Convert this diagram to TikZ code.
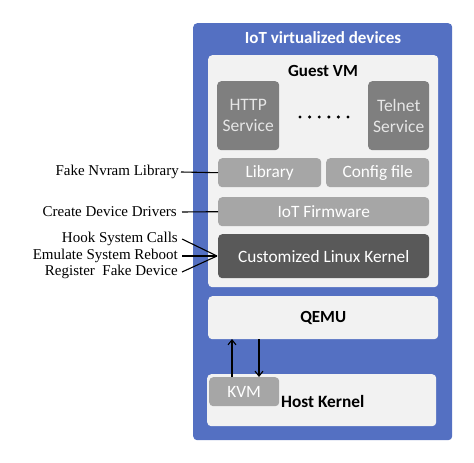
\documentclass[tikz,border=0pt]{standalone}
\usepackage{fontspec}
\setmainfont{Liberation Serif}
\newfontfamily\calfont{Carlito}
\usetikzlibrary{arrows.meta}
\definecolor{bluebg}{HTML}{5470C2}
\definecolor{lightbox}{HTML}{F2F2F2}
\definecolor{svcgray}{HTML}{7F7F7F}
\definecolor{midgray}{HTML}{A6A6A6}
\definecolor{darkgray}{HTML}{595959}
\definecolor{svctext}{HTML}{E6E6E6}
\begin{document}
\begin{tikzpicture}[x=1bp,y=-1bp,
  box/.style={rounded corners=4bp, inner sep=0pt},
  btxt/.style={font=\calfont\fontsize{17.3bp}{20bp}\selectfont},
  lbl/.style={anchor=east, font=\fontsize{15bp}{16bp}\selectfont, inner sep=0pt},
  con/.style={line width=1.1bp, black},
  arr/.style={line width=1.1bp, black, -{Straight Barb[length=5bp,width=8bp]}}]
\useasboundingbox (0,0) rectangle (474,463);
% outer
\node[box, fill=bluebg, minimum width=259bp, minimum height=417bp, anchor=north west] (outer) at (193,23) {};
\node[font=\calfont\bfseries\fontsize{17bp}{18bp}\selectfont, text=white] (title) at (323,38) {IoT virtualized devices};
% guest vm
\node[box, fill=lightbox, minimum width=230bp, minimum height=232bp, anchor=north west] (guest) at (208,55) {};
\node[font=\calfont\bfseries\fontsize{17bp}{18bp}\selectfont] (gtitle) at (323,71) {Guest VM};
\node[box, fill=svcgray, minimum width=62bp, minimum height=69bp, anchor=north west, text=svctext,
  font=\calfont\fontsize{17.5bp}{21bp}\selectfont, align=center] (http) at (217,81) {HTTP\\Service};
\node[box, fill=svcgray, minimum width=61bp, minimum height=69bp, anchor=north west, text=svctext,
  font=\calfont\fontsize{17.5bp}{21bp}\selectfont, align=center] (telnet) at (368,81) {Telnet\\Service};
\coordinate (dots) at (300,117);
\foreach \i in {0,...,5} { \fill (300+\i*9.6,117) circle (1.7bp); }
\node[box, fill=midgray, minimum width=103bp, minimum height=29bp, anchor=north west, text=white,
  btxt] (lib) at (218,158) {Library};
\node[box, fill=midgray, minimum width=103bp, minimum height=29bp, anchor=north west, text=white,
  btxt] (cfg) at (326,158) {Config file};
\node[box, fill=midgray, minimum width=211bp, minimum height=29bp, anchor=north west, text=white,
  btxt] (fw) at (218,197) {IoT Firmware};
\node[box, fill=darkgray, minimum width=211bp, minimum height=44bp, anchor=north west, text=white,
  btxt] (kern) at (218,234) {Customized Linux Kernel};
% qemu
\node[box, fill=lightbox, minimum width=230bp, minimum height=43bp, anchor=north west,
  font=\calfont\bfseries\fontsize{17bp}{18bp}\selectfont] (qemu) at (208,296) {QEMU};
% host kernel
\node[box, fill=lightbox, minimum width=229bp, minimum height=52bp, anchor=north west] (host) at (207,374) {};
\node[box, fill=midgray, minimum width=70bp, minimum height=29bp, anchor=north west, text=white,
  btxt] (kvm) at (209,377) {KVM};
\node[anchor=west, inner sep=0pt, font=\calfont\bfseries\fontsize{17.3bp}{18bp}\selectfont] (hosttxt) at (281,401) {Host Kernel};
% kvm arrows
\coordinate (upfrom) at (232,377);
\coordinate (upto) at (232,339);
\coordinate (dnfrom) at (259,339);
\coordinate (dnto) at (259,377);
\draw[arr] (upfrom) -- (upto);
\draw[arr] (dnfrom) -- (dnto);
% left labels
\node[lbl] (l1) at (179,172) {Fake Nvram Library};
\node[lbl] (l2) at (177,212) {Create Device Drivers};
\node[lbl] (l3) at (178,239) {Hook System Calls};
\node[lbl] (l4) at (178,256) {Emulate System Reboot};
\node[lbl] (l5) at (178,272) {Register\ \ Fake Device};
\coordinate (c1) at (181,172);
\coordinate (c2) at (182,212);
\coordinate (c3) at (182,239);
\coordinate (c4) at (182,256);
\coordinate (c5) at (182,272);
\coordinate (tip) at (217,256);
\draw[con] (c1) -- (lib.west);
\draw[con] (c2) -- (fw.west);
\draw[con] (c3) -- (tip);
\draw[con] (c4) -- (tip);
\draw[con] (c5) -- (tip);
\end{tikzpicture}
\end{document}
